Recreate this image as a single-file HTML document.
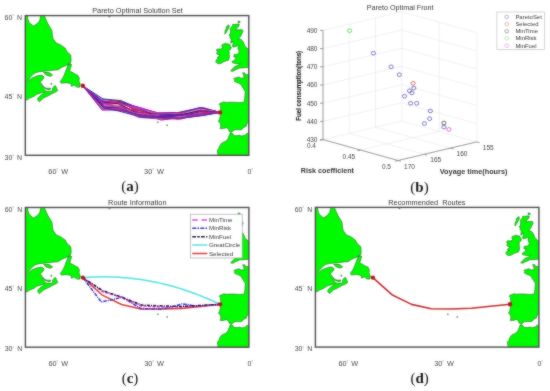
<!DOCTYPE html>
<html><head><meta charset="utf-8"><title>Figure</title><style>html,body{margin:0;padding:0;background:#fff;width:550px;height:391px;overflow:hidden}</style></head><body>
<svg width="550" height="391" viewBox="0 0 550 391" font-family="'Liberation Sans', Arial, Helvetica, sans-serif" style="display:block">
<defs><clipPath id="clip"><rect x="0" y="0" width="223.5" height="139.7"/></clipPath>
<path id="land" d="M-31.93,-19.99 0.32,-19.99 1.28,-6.45 1.92,-3.2 2.24,0.63 2.39,2.78 3.99,7.12 7.31,9.93 8.4,10.41 11.69,8.22 14.4,4.9 15.2,1.08 15.33,-3.2 19.16,-3.2 19.16,0.7 22.7,8.41 26.6,14.78 27.2,19.88 27.81,23.09 31,27.5 35.44,29.39 39.69,32.47 41.99,36.32 45.43,39.36 45.82,44.76 45.05,47.8 41.22,49.73 36.62,51.65 32.76,54.25 29.41,54.5 25.29,54.99 21.71,55.24 19.16,55.64 14.05,56.18 9.96,57.17 7.66,58.93 5.87,60.77 3.83,63.04 2.27,64.85 -1.6,67.78 -1.6,68.72 1.76,66.42 4.47,63.99 6.9,62.32 12.01,60.24 14.69,59.66 16.6,59.75 18.65,61.26 17.88,63.52 16.28,64.95 14.69,66.84 16.12,67.78 16.92,69.19 17.24,71.05 18.2,72.9 19.48,74.74 20.43,75.42 23.63,76.11 25.86,75.88 27.14,74.97 27.14,72.9 28.74,70.59 30.33,70.12 30.97,71.98 32.47,74.97 30.97,76.11 29.06,77.01 27.14,77.92 23.95,79.72 20.75,81.28 18.2,82.39 15.96,84.6 14.05,86.14 12.45,84.6 12.45,82.39 14.37,80.61 16.6,78.82 18.52,77.92 19.16,76.56 17.24,77.01 15.01,77.69 12.77,78.14 10.86,79.04 9.26,80.39 7.02,81.51 4.47,82.39 2.24,83.94 -0.32,85.04 -1.92,87.23 -31.93,92.41Z M43.26,48.46 46.3,48.82 45.34,52.25 44.28,55.49 45.82,56.28 46.65,56.48 49.71,58.49 52.75,59.8 54.06,62.84 53.61,65.42 54.92,68.49 54.47,71.52 52.36,71.75 50.99,71.1 48.82,69.38 47.89,70.12 45.79,70.68 46.23,68.49 43.74,67.55 41,67.17 35.79,67.6 34.93,65.9 37.52,62.41 38.92,59.41 41.22,53.2Z M18.2,56.97 21.39,56.72 24.17,57.21 27.14,59.17 26.18,60.39 24.27,60.63 20.75,59.41Z M17.88,70.12 19.32,71.98 21.71,72.67 23.95,72.67 25.54,72.67 24.27,74.74 22.35,73.82 19.8,73.13 18.52,71.98Z M25.7,67.31 26.5,68.02 25.86,69.19 25.54,68.25Z M78.23,-9.75 81.1,-1.91 83.01,0.32 83.97,1.58 85.57,0 87.48,-3.85 89.4,-9.75Z M203.7,28.5 201.47,28.22 200.19,27.5 198.91,28.5 197,28.78 196.36,30.44 197.32,31.82 196.04,33.46 194.45,33.46 192.21,33.46 191.25,34 191.57,35.62 192.85,36.16 190.93,37.77 192.85,39.1 194.76,39.36 193.49,40.42 191.89,42.52 193.49,42.79 191.25,44.09 190.29,45.9 191.57,47.44 192.85,48.21 196.04,47.7 198.28,46.16 201.15,45.12 203.23,44.61 204.02,42 204.34,40.42 203.7,38.57 204.02,36.7 203.39,35.08 205.62,33.46 205.94,31.54 204.98,30.44 204.66,29.34Z M207.54,8.59 209.45,9.02 212.64,8.41 213.92,8.71 213.6,10.53 211.05,13.24 210.41,14.72 212.33,14.13 217.11,14.13 217.75,15.61 216.8,17.67 215.84,19.7 215.2,21.15 214.24,22.01 213.28,23.44 215.52,23.72 217.11,25.14 218.39,27.11 219.35,30.17 221.58,32.36 223.18,34.54 223.98,37.23 224.62,39.36 225.42,40.69 228.93,41.74 229.09,45.12 227.01,46.67 226.05,48.21 228.13,49.22 226.69,51 224.14,52 220.95,51.9 217.43,52.35 214.24,52.35 212.33,53.5 210.41,54.1 207.54,55.74 205.3,55.49 206.9,53.5 209.77,50.74 213.28,49.73 214.88,48.21 212.96,48.46 210.09,47.95 207.22,47.18 206.58,46.16 210.09,43.83 210.41,40.95 208.49,41.48 208.81,38.83 212.64,38.57 213.92,36.16 212.64,32.91 213.28,29.89 209.45,31.16 207.85,31.54 207.06,30.44 207.85,28.22 207.85,25.42 206.1,27.39 205.3,27.67 205.94,24 204.5,21.72 205.3,19.99 203.7,19.7 204.98,17.96 205.3,15.31 204.98,12.94 206.9,10.53Z M203.7,9.2 203.86,11.74 202.43,14.13 200.51,17.67 199.55,18.54 199.71,15.31 200.83,13.24 200.99,11.14 202.43,9.93Z M212.96,5.33 214.88,5.95 214.24,7.49 212.64,6.87Z M233.08,49.73 228.61,51.25 228.61,54.75 227.01,55.98 223.98,57.21 224.14,58.44 222.86,59.17 219.67,58.83 219.35,57.21 217.27,57.21 218.39,59.66 218.71,62.32 215.84,62.56 213.6,61.35 210.73,62.08 208.33,63.04 209.77,64.23 208.81,65.42 210.41,66.37 213.92,67.78 215.84,68.96 216.8,71.05 218.39,73.36 219.99,76.11 219.67,79.27 219.51,82.39 218.87,86.14 217.75,86.8 214.24,87.01 211.37,86.8 207.54,86.58 204.66,86.58 201.15,86.8 198.28,86.36 197,87.01 194.76,87.67 193.81,88.75 195.08,90.26 195.18,92.41 195.72,96.65 195.08,99.58 194.45,102.89 193.49,104.94 193.23,106.17 194.76,106.98 195.4,109 195.4,111.01 194.76,113.01 197.96,113.01 199.87,112.41 201.47,112.21 203.39,114 203.7,115.58 205.62,116.96 206.58,116.17 209.45,114.2 212.33,114.12 216.48,114.12 218.39,111.81 220.95,110.61 221.58,107.99 224.14,105.96 225.1,104.94 233.08,104.94Z M233.08,113.8 226.69,114.99 223.5,117.55 221.58,117.94 219.67,119.69 216.48,120.47 214.24,119.69 212.01,120.08 209.13,120.08 206.58,117.35 204.66,117.74 203.86,120.08 202.43,123.56 201.63,124.71 199.23,126.24 196.36,127.57 193.97,130.79 193.81,132.29 192.21,134.53 192.05,137.12 192.69,138.23 192.21,140.43 189.98,143.35 233.08,143.35Z" fill="#00fa00" stroke="#1e5a1e" stroke-width="0.55" stroke-linejoin="round"/>
<filter id="soft" x="0" y="0" width="550" height="391" filterUnits="userSpaceOnUse" color-interpolation-filters="sRGB"><feGaussianBlur stdDeviation="1" result="b"/><feComposite in="SourceGraphic" in2="b" operator="arithmetic" k2="0.55" k3="0.45"/></filter>
</defs>
<g filter="url(#soft)">
<rect width="550" height="391" fill="#fff"/>
<g transform="translate(25.3,15.6)">
<g clip-path="url(#clip)">
<use href="#land"/>
<circle cx="132.5" cy="106.74" r="0.75" fill="#3a4a3a"/><circle cx="141.76" cy="109.61" r="0.75" fill="#3a4a3a"/>
<polyline points="57.5,70.2 77.75,83.4 95.68,85 112.79,92.4 132.69,97.57 152.85,96.9 175.62,92 194.6,96.8" fill="none" stroke="#383858" stroke-width="1" stroke-linejoin="round"/>
<polyline points="57.5,70.2 75.62,83.4 97.74,86.54 114.48,93.45 132.73,100.18 153.95,99.06 174.09,92 194.6,96.8" fill="none" stroke="#3434c8" stroke-width="1" stroke-linejoin="round"/>
<polyline points="57.5,70.2 75.4,85.89 96.19,86.61 115.24,92.46 132.8,97.4 155.9,96.9 175.07,92.36 194.6,96.8" fill="none" stroke="#7a18c8" stroke-width="1" stroke-linejoin="round"/>
<polyline points="57.5,70.2 76,84.7 96.49,88.58 115.37,92.4 136.88,98.48 153.94,98.97 174.09,95.72 194.6,96.8" fill="none" stroke="#c828b0" stroke-width="1" stroke-linejoin="round"/>
<polyline points="57.5,70.2 75.26,86.49 93.2,86.74 116.32,95.13 136.88,98.99 155.98,97.2 176.4,93.89 194.6,96.8" fill="none" stroke="#e070c8" stroke-width="1" stroke-linejoin="round"/>
<polyline points="57.5,70.2 79.22,87.29 96.32,87.03 116.01,92.4 137.47,99.63 153.92,99.96 176.84,93.04 194.6,96.8" fill="none" stroke="#8a18d8" stroke-width="1" stroke-linejoin="round"/>
<polyline points="57.5,70.2 75.34,86.03 93.29,85 113.15,96.51 134.45,97.92 152.9,100.47 176.25,93.69 194.6,96.8" fill="none" stroke="#c01850" stroke-width="1" stroke-linejoin="round"/>
<polyline points="57.5,70.2 78.82,88.06 95.08,86.4 116.92,94.18 133.25,101.72 153.66,97.33 175.92,92.8 194.6,96.8" fill="none" stroke="#2a2aa0" stroke-width="1" stroke-linejoin="round"/>
<polyline points="57.5,70.2 74.52,86 94.85,87.84 117.27,95.91 135.08,100.67 155.88,99.76 178,92.12 194.6,96.8" fill="none" stroke="#9010a0" stroke-width="1" stroke-linejoin="round"/>
<polyline points="57.5,70.2 78.49,89.17 94.99,88.05 115.67,93.23 132.84,97.82 153.31,98.03 173.76,94 194.6,96.8" fill="none" stroke="#d83ca8" stroke-width="1" stroke-linejoin="round"/>
<polyline points="57.5,70.2 75.01,86.36 93.13,88.24 115.57,98.66 133.76,98.52 154.32,98.98 177.74,93.1 194.6,96.8" fill="none" stroke="#401880" stroke-width="1" stroke-linejoin="round"/>
<polyline points="57.5,70.2 76.92,88.2 93.51,86.6 113.82,95.52 133.31,102.17 157.25,97.66 174.23,95.65 194.6,96.8" fill="none" stroke="#d02868" stroke-width="1" stroke-linejoin="round"/>
<polyline points="57.5,70.2 77.14,86.67 97.32,93.57 113.81,98.21 133.34,100.15 155.16,101.6 175.15,97.34 194.6,96.8" fill="none" stroke="#9a30e0" stroke-width="1" stroke-linejoin="round"/>
<polyline points="57.5,70.2 79.42,90.61 97.03,93.04 116.2,99.38 135.09,99.73 152.64,99.83 174.9,93.49 194.6,96.8" fill="none" stroke="#f0a0d8" stroke-width="1" stroke-linejoin="round"/>
<polyline points="57.5,70.2 79.28,90.51 97.69,90.47 117.28,100.85 133.6,100.69 153.48,99.47 176.62,94.77 194.6,96.8" fill="none" stroke="#700060" stroke-width="1" stroke-linejoin="round"/>
<polyline points="57.5,70.2 76.9,91.6 97,92.38 115.8,95.27 136.41,103.67 154.89,102.3 177.45,94.93 194.6,96.8" fill="none" stroke="#c82060" stroke-width="1" stroke-linejoin="round"/>
<polyline points="57.5,70.2 79.36,91.86 95.01,90.9 116.12,101.31 133.14,100.27 157.02,99.63 174.23,98.71 194.6,96.8" fill="none" stroke="#5020c0" stroke-width="1" stroke-linejoin="round"/>
<polyline points="57.5,70.2 77.79,93.09 95.74,90.97 112.57,96.3 135.75,104.5 157.17,101.74 177.86,96.95 194.6,96.8" fill="none" stroke="#b02090" stroke-width="1" stroke-linejoin="round"/>
<polyline points="57.5,70.2 75.76,90.07 94.2,90.95 113.8,99.66 133.16,102.05 154.27,103.89 176.42,97.39 194.6,96.8" fill="none" stroke="#e04890" stroke-width="1" stroke-linejoin="round"/>
<polyline points="57.5,70.2 79.09,91.44 95.66,92.89 112.59,99.6 133.42,102.43 156.5,99.72 175.87,96.11 194.6,96.8" fill="none" stroke="#4028a8" stroke-width="1" stroke-linejoin="round"/>
<polyline points="57.5,70.2 76.13,92.48 95.78,93.41 113.03,101.68 133.74,103.3 156.36,101.33 176.31,98.27 194.6,96.8" fill="none" stroke="#c030a0" stroke-width="1" stroke-linejoin="round"/>
<polyline points="57.5,70.2 76.72,94.51 95.53,94.51 115.96,100.25 135.17,103.03 157.21,102.58 177.88,99.63 194.6,96.8" fill="none" stroke="#8030e0" stroke-width="1" stroke-linejoin="round"/>
<polyline points="57.5,70.2 77.3,92.02 97.2,95.5 113.11,98.15 132.86,103.26 152.87,101.69 177.42,99.77 194.6,96.8" fill="none" stroke="#d86cb8" stroke-width="1" stroke-linejoin="round"/>
<polyline points="57.5,70.2 78.08,91.97 93.71,95.5 117.34,101.8 137.26,102.42 154.94,102.73 177.66,99.9 194.6,96.8" fill="none" stroke="#3c2c90" stroke-width="1" stroke-linejoin="round"/>
<polyline points="57.5,70.2 77.08,93.65 93.98,93.71 116.11,100.06 135.27,101.7 152.59,103.2 176.62,98.51 194.6,96.8" fill="none" stroke="#b02870" stroke-width="1" stroke-linejoin="round"/>
<polyline points="57.5,70.2 79.43,92.43 97.86,95.5 113.83,99.02 136.39,102.08 153.15,102.64 178.06,99.32 194.6,96.8" fill="none" stroke="#6a1ab8" stroke-width="1" stroke-linejoin="round"/>
<circle cx="57.5" cy="70.2" r="2.2" fill="#b81414"/>
<circle cx="194.6" cy="96.8" r="2.2" fill="#b81414"/>
</g>
<rect x="0" y="0" width="223.5" height="139.7" fill="none" stroke="#4a4a4a" stroke-width="1.4"/>
</g>
<text x="22.1" y="19.8" font-size="7" text-anchor="end" fill="#444">60<tspan font-size="4.2" dy="-2.6">&#176;</tspan><tspan dy="2.6" dx="1"> N</tspan></text>
<text x="22.1" y="99.07" font-size="7" text-anchor="end" fill="#444">45<tspan font-size="4.2" dy="-2.6">&#176;</tspan><tspan dy="2.6" dx="1"> N</tspan></text>
<text x="22.1" y="159.5" font-size="7" text-anchor="end" fill="#444">30<tspan font-size="4.2" dy="-2.6">&#176;</tspan><tspan dy="2.6" dx="1"> N</tspan></text>
<text x="58.23" y="174" font-size="7.3" text-anchor="middle" fill="#444">60<tspan font-size="4.38" dy="-2.6">&#176;</tspan><tspan dy="2.6" dx="1"> W</tspan></text>
<text x="154.01" y="174" font-size="7.3" text-anchor="middle" fill="#444">30<tspan font-size="4.38" dy="-2.6">&#176;</tspan><tspan dy="2.6" dx="1"> W</tspan></text>
<text x="250.3" y="174" font-size="7" text-anchor="middle" fill="#444">0<tspan font-size="4.2" dy="-2.6">&#176;</tspan></text>
<text x="137.5" y="12.8" font-size="7.35" text-anchor="middle" fill="#333">Pareto Optimal Solution Set</text>
<g transform="translate(25.4,207.5)">
<g clip-path="url(#clip)">
<use href="#land"/>
<circle cx="132.5" cy="106.74" r="0.75" fill="#3a4a3a"/><circle cx="141.76" cy="109.61" r="0.75" fill="#3a4a3a"/>
<polyline points="57.5,70.2 59.92,70.01 62.34,69.84 64.76,69.7 67.19,69.58 69.62,69.48 72.05,69.41 74.48,69.36 76.91,69.34 79.35,69.33 81.78,69.36 84.21,69.4 86.64,69.47 89.07,69.56 91.5,69.68 93.92,69.82 96.34,69.98 98.76,70.16 101.18,70.37 103.59,70.6 105.99,70.86 108.39,71.13 110.79,71.43 113.18,71.75 115.56,72.1 117.93,72.46 120.3,72.85 122.66,73.26 125.02,73.69 127.36,74.14 129.7,74.61 132.03,75.1 134.35,75.61 136.65,76.14 138.95,76.69 141.24,77.26 143.52,77.85 145.79,78.46 148.05,79.09 150.29,79.73 152.53,80.39 154.75,81.07 156.96,81.77 159.16,82.48 161.35,83.21 163.53,83.95 165.69,84.71 167.84,85.49 169.98,86.28 172.1,87.08 174.21,87.9 176.31,88.73 178.4,89.58 180.47,90.44 182.53,91.31 184.57,92.2 186.61,93.1 188.62,94 190.63,94.93 192.62,95.86 194.6,96.8" fill="none" stroke="#50e0e0" stroke-width="1.5"/>
<polyline points="57.5,70.2 76.5,87.3 96.1,97 115.8,101.4 135,101.6 155.9,100.9 175,98.9 194.6,96.8" fill="none" stroke="#d83a34" stroke-width="1.5" stroke-linejoin="round"/>
<polyline points="57.5,70.2 75.9,94.5 86.5,92.2 97,89.6 115,101 135,101.8 150.1,98.6 156.4,96.4 162,97 170.1,98.9 194.6,96.8" fill="none" stroke="#3434c0" stroke-width="1.5" stroke-dasharray="3.5,1,1,1" stroke-linejoin="round"/>
<polyline points="57.5,70.2 77,84 94.5,89.5 116,98.5 135,99.5 155,99.6 175,98.4 194.6,96.8" fill="none" stroke="#e040e0" stroke-width="1.5" stroke-dasharray="3,1.5" stroke-linejoin="round"/>
<polyline points="57.5,70.2 77.3,83.2 93.7,88.7 116.6,97.6 135,98.3 155,99 175,98 194.6,96.8" fill="none" stroke="#1a1030" stroke-width="1.5" stroke-dasharray="3,1.2,1,1.2" stroke-linejoin="round"/>
<circle cx="57.5" cy="70.2" r="2.1" fill="#b81414"/>
<circle cx="194.6" cy="96.8" r="2.1" fill="#b81414"/>
<rect x="165" y="6.7" width="51.8" height="43.8" fill="#fff" stroke="#999" stroke-width="0.6"/>
<line x1="166.9" y1="12.4" x2="181.9" y2="12.4" stroke="#e040e0" stroke-width="1.5" stroke-dasharray="5.4,3.9"/>
<text x="183.6" y="14.6" font-size="6.2" fill="#333">MinTime</text>
<line x1="166.9" y1="20.78" x2="181.9" y2="20.78" stroke="#3434c0" stroke-width="1.5" stroke-dasharray="4,1.2,1.6,1.2"/>
<text x="183.6" y="22.98" font-size="6.2" fill="#333">MinRisk</text>
<line x1="166.9" y1="29.16" x2="181.9" y2="29.16" stroke="#1a1030" stroke-width="1.5" stroke-dasharray="3.6,1.4,2.4,1.4"/>
<text x="183.6" y="31.36" font-size="6.2" fill="#333">MinFuel</text>
<line x1="166.9" y1="37.54" x2="181.9" y2="37.54" stroke="#50e0e0" stroke-width="1.5"/>
<text x="183.6" y="39.74" font-size="6.2" fill="#333">GreatCircle</text>
<line x1="166.9" y1="45.92" x2="181.9" y2="45.92" stroke="#d83a34" stroke-width="1.5"/>
<text x="183.6" y="48.12" font-size="6.2" fill="#333">Selected</text>
</g>
<rect x="0" y="0" width="223.5" height="139.7" fill="none" stroke="#4a4a4a" stroke-width="1.4"/>
</g>
<text x="22.2" y="211.7" font-size="7" text-anchor="end" fill="#444">60<tspan font-size="4.2" dy="-2.6">&#176;</tspan><tspan dy="2.6" dx="1"> N</tspan></text>
<text x="22.2" y="290.97" font-size="7" text-anchor="end" fill="#444">45<tspan font-size="4.2" dy="-2.6">&#176;</tspan><tspan dy="2.6" dx="1"> N</tspan></text>
<text x="22.2" y="351.4" font-size="7" text-anchor="end" fill="#444">30<tspan font-size="4.2" dy="-2.6">&#176;</tspan><tspan dy="2.6" dx="1"> N</tspan></text>
<text x="58.33" y="365.9" font-size="7.3" text-anchor="middle" fill="#444">60<tspan font-size="4.38" dy="-2.6">&#176;</tspan><tspan dy="2.6" dx="1"> W</tspan></text>
<text x="154.11" y="365.9" font-size="7.3" text-anchor="middle" fill="#444">30<tspan font-size="4.38" dy="-2.6">&#176;</tspan><tspan dy="2.6" dx="1"> W</tspan></text>
<text x="250.4" y="365.9" font-size="7" text-anchor="middle" fill="#444">0<tspan font-size="4.2" dy="-2.6">&#176;</tspan></text>
<text x="137.3" y="204.6" font-size="7.35" text-anchor="middle" fill="#333">Route Information</text>
<g transform="translate(315.4,207.4)">
<g clip-path="url(#clip)">
<use href="#land"/>
<circle cx="132.5" cy="106.74" r="0.75" fill="#3a4a3a"/><circle cx="141.76" cy="109.61" r="0.75" fill="#3a4a3a"/>
<polyline points="57.5,70.2 76.5,87.3 96.1,97 115.8,101.4 135,101.6 155.9,100.9 175,98.9 194.6,96.8" fill="none" stroke="#c02c2c" stroke-width="1.6" stroke-linejoin="round"/>
<circle cx="57.5" cy="70.2" r="2.2" fill="#b81414"/>
<circle cx="194.6" cy="96.8" r="2.2" fill="#b81414"/>
</g>
<rect x="0" y="0" width="223.5" height="139.7" fill="none" stroke="#4a4a4a" stroke-width="1.4"/>
</g>
<text x="312.2" y="211.6" font-size="7" text-anchor="end" fill="#444">60<tspan font-size="4.2" dy="-2.6">&#176;</tspan><tspan dy="2.6" dx="1"> N</tspan></text>
<text x="312.2" y="290.87" font-size="7" text-anchor="end" fill="#444">45<tspan font-size="4.2" dy="-2.6">&#176;</tspan><tspan dy="2.6" dx="1"> N</tspan></text>
<text x="312.2" y="351.3" font-size="7" text-anchor="end" fill="#444">30<tspan font-size="4.2" dy="-2.6">&#176;</tspan><tspan dy="2.6" dx="1"> N</tspan></text>
<text x="348.33" y="365.8" font-size="7.3" text-anchor="middle" fill="#444">60<tspan font-size="4.38" dy="-2.6">&#176;</tspan><tspan dy="2.6" dx="1"> W</tspan></text>
<text x="444.11" y="365.8" font-size="7.3" text-anchor="middle" fill="#444">30<tspan font-size="4.38" dy="-2.6">&#176;</tspan><tspan dy="2.6" dx="1"> W</tspan></text>
<text x="540.4" y="365.8" font-size="7" text-anchor="middle" fill="#444">0<tspan font-size="4.2" dy="-2.6">&#176;</tspan></text>
<text x="426.9" y="205" font-size="7.35" text-anchor="middle" fill="#333" xml:space="preserve">Recommended  Routes</text>
<g stroke="#e6e6e6" stroke-width="0.6" fill="none">
<line x1="349.27" y1="133.4" x2="349.27" y2="24.2"/>
<line x1="375.53" y1="127.2" x2="375.53" y2="18"/>
<line x1="401.8" y1="121" x2="401.8" y2="11.8"/>
<line x1="323" y1="139.6" x2="401.8" y2="121"/>
<line x1="323" y1="121.4" x2="401.8" y2="102.8"/>
<line x1="323" y1="103.2" x2="401.8" y2="84.6"/>
<line x1="323" y1="85" x2="401.8" y2="66.4"/>
<line x1="323" y1="66.8" x2="401.8" y2="48.2"/>
<line x1="323" y1="48.6" x2="401.8" y2="30"/>
<line x1="323" y1="30.4" x2="401.8" y2="11.8"/>
<line x1="439.3" y1="131.45" x2="439.3" y2="22.25"/>
<line x1="476.8" y1="141.9" x2="476.8" y2="32.7"/>
<line x1="401.8" y1="121" x2="476.8" y2="141.9"/>
<line x1="401.8" y1="102.8" x2="476.8" y2="123.7"/>
<line x1="401.8" y1="84.6" x2="476.8" y2="105.5"/>
<line x1="401.8" y1="66.4" x2="476.8" y2="87.3"/>
<line x1="401.8" y1="48.2" x2="476.8" y2="69.1"/>
<line x1="401.8" y1="30" x2="476.8" y2="50.9"/>
<line x1="401.8" y1="11.8" x2="476.8" y2="32.7"/>
<line x1="360.5" y1="150.05" x2="439.3" y2="131.45"/>
<line x1="349.27" y1="133.4" x2="424.27" y2="154.3"/>
<line x1="375.53" y1="127.2" x2="450.53" y2="148.1"/>
</g>
<g stroke="#8a8a8a" stroke-width="0.9" fill="none">
<line x1="323" y1="139.6" x2="323" y2="30.4"/>
<line x1="323" y1="139.6" x2="398" y2="160.5"/>
<line x1="398" y1="160.5" x2="476.8" y2="141.9"/>
<line x1="320" y1="139.6" x2="323" y2="139.6"/>
<line x1="320" y1="121.4" x2="323" y2="121.4"/>
<line x1="320" y1="103.2" x2="323" y2="103.2"/>
<line x1="320" y1="85" x2="323" y2="85"/>
<line x1="320" y1="66.8" x2="323" y2="66.8"/>
<line x1="320" y1="48.6" x2="323" y2="48.6"/>
<line x1="320" y1="30.4" x2="323" y2="30.4"/>
<line x1="323" y1="139.6" x2="320" y2="140.3"/>
<line x1="360.5" y1="150.05" x2="357.5" y2="150.75"/>
<line x1="398" y1="160.5" x2="395" y2="161.2"/>
<line x1="398" y1="160.5" x2="400.8" y2="161.3"/>
<line x1="424.27" y1="154.3" x2="427.07" y2="155.1"/>
<line x1="450.53" y1="148.1" x2="453.33" y2="148.9"/>
<line x1="476.8" y1="141.9" x2="479.6" y2="142.7"/>
</g>
<text x="317.5" y="141.9" font-size="6.5" text-anchor="end" fill="#404040">430</text>
<text x="317.5" y="123.7" font-size="6.5" text-anchor="end" fill="#404040">440</text>
<text x="317.5" y="105.5" font-size="6.5" text-anchor="end" fill="#404040">450</text>
<text x="317.5" y="87.3" font-size="6.5" text-anchor="end" fill="#404040">460</text>
<text x="317.5" y="69.1" font-size="6.5" text-anchor="end" fill="#404040">470</text>
<text x="317.5" y="50.9" font-size="6.5" text-anchor="end" fill="#404040">480</text>
<text x="317.5" y="32.7" font-size="6.5" text-anchor="end" fill="#404040">490</text>
<text x="311.4" y="148.1" font-size="6.5" text-anchor="middle" fill="#404040">0.4</text>
<text x="348.9" y="158.55" font-size="6.5" text-anchor="middle" fill="#404040">0.45</text>
<text x="386.4" y="169" font-size="6.5" text-anchor="middle" fill="#404040">0.5</text>
<text x="409.5" y="168.5" font-size="6.5" text-anchor="middle" fill="#404040">170</text>
<text x="435.77" y="162.3" font-size="6.5" text-anchor="middle" fill="#404040">165</text>
<text x="462.03" y="156.1" font-size="6.5" text-anchor="middle" fill="#404040">160</text>
<text x="488.3" y="149.9" font-size="6.5" text-anchor="middle" fill="#404040">155</text>
<text x="327.4" y="172.6" font-size="7.2" font-weight="bold" text-anchor="middle" fill="#333">Risk coefficient</text>
<text x="473.6" y="173.6" font-size="7.3" font-weight="bold" text-anchor="middle" fill="#333">Voyage time(hours)</text>
<text transform="translate(301.2,85.8) rotate(-90)" font-size="6.9" font-weight="bold" text-anchor="middle" fill="#222" stroke="#222" stroke-width="0.15" textLength="69.8" lengthAdjust="spacingAndGlyphs">Fuel consumption(tons)</text>
<text x="400.2" y="10" font-size="7.2" text-anchor="middle" fill="#333">Pareto Optimal Front</text>
<ellipse cx="349.6" cy="30.7" rx="2.1" ry="1.85" fill="none" stroke="#40d040" stroke-width="0.75"/>
<ellipse cx="373.4" cy="53.2" rx="2.1" ry="1.85" fill="none" stroke="#5050b0" stroke-width="0.75"/>
<ellipse cx="391.1" cy="66.8" rx="2.1" ry="1.85" fill="none" stroke="#5050b0" stroke-width="0.75"/>
<ellipse cx="399.3" cy="74.7" rx="2.1" ry="1.85" fill="none" stroke="#5050b0" stroke-width="0.75"/>
<ellipse cx="413.1" cy="83.4" rx="2.1" ry="1.85" fill="none" stroke="#d04040" stroke-width="0.75"/>
<ellipse cx="413.8" cy="88.1" rx="2.1" ry="1.85" fill="none" stroke="#5050b0" stroke-width="0.75"/>
<ellipse cx="409.5" cy="90.8" rx="2.1" ry="1.85" fill="none" stroke="#5050b0" stroke-width="0.75"/>
<ellipse cx="411.9" cy="92.9" rx="2.1" ry="1.85" fill="none" stroke="#5050b0" stroke-width="0.75"/>
<ellipse cx="404.5" cy="96.2" rx="2.1" ry="1.85" fill="none" stroke="#5050b0" stroke-width="0.75"/>
<ellipse cx="410.6" cy="103.3" rx="2.1" ry="1.85" fill="none" stroke="#5050b0" stroke-width="0.75"/>
<ellipse cx="416.7" cy="103.3" rx="2.1" ry="1.85" fill="none" stroke="#5050b0" stroke-width="0.75"/>
<ellipse cx="430.3" cy="111" rx="2.1" ry="1.85" fill="none" stroke="#5050b0" stroke-width="0.75"/>
<ellipse cx="429.6" cy="118.7" rx="2.1" ry="1.85" fill="none" stroke="#5050b0" stroke-width="0.75"/>
<ellipse cx="424.4" cy="123.5" rx="2.1" ry="1.85" fill="none" stroke="#5050b0" stroke-width="0.75"/>
<ellipse cx="443.9" cy="123" rx="2.1" ry="1.85" fill="none" stroke="#404040" stroke-width="0.75"/>
<ellipse cx="443.9" cy="127.1" rx="2.1" ry="1.85" fill="none" stroke="#5050b0" stroke-width="0.75"/>
<ellipse cx="448.9" cy="129.4" rx="2.1" ry="1.85" fill="none" stroke="#d040d0" stroke-width="0.75"/>
<rect x="496.9" y="12" width="47.5" height="37.7" fill="#fff" stroke="#aaa" stroke-width="0.5"/>
<ellipse cx="506.7" cy="17" rx="1.9" ry="1.7" fill="none" stroke="#8080d0" stroke-width="0.6"/>
<text x="515.4" y="19.1" font-size="5.95" fill="#333">ParetoSet</text>
<ellipse cx="506.7" cy="24.13" rx="1.9" ry="1.7" fill="none" stroke="#e08080" stroke-width="0.6"/>
<text x="515.4" y="26.23" font-size="5.95" fill="#333">Selected</text>
<ellipse cx="506.7" cy="31.26" rx="1.9" ry="1.7" fill="none" stroke="#707070" stroke-width="0.6"/>
<text x="515.4" y="33.36" font-size="5.95" fill="#333">MinTime</text>
<ellipse cx="506.7" cy="38.39" rx="1.9" ry="1.7" fill="none" stroke="#80e080" stroke-width="0.6"/>
<text x="515.4" y="40.49" font-size="5.95" fill="#333">MinRisk</text>
<ellipse cx="506.7" cy="45.52" rx="1.9" ry="1.7" fill="none" stroke="#e080e0" stroke-width="0.6"/>
<text x="515.4" y="47.62" font-size="5.95" fill="#333">MinFuel</text>
<text x="129.9" y="191.2" font-size="15" text-anchor="middle" font-family="'Liberation Serif', 'Times New Roman', serif" fill="#111">(<tspan font-weight="bold">a</tspan>)</text>
<text x="419.5" y="192.3" font-size="15" text-anchor="middle" font-family="'Liberation Serif', 'Times New Roman', serif" fill="#111">(<tspan font-weight="bold">b</tspan>)</text>
<text x="130" y="382.6" font-size="15" text-anchor="middle" font-family="'Liberation Serif', 'Times New Roman', serif" fill="#111">(<tspan font-weight="bold">c</tspan>)</text>
<text x="419.7" y="383" font-size="15" text-anchor="middle" font-family="'Liberation Serif', 'Times New Roman', serif" fill="#111">(<tspan font-weight="bold">d</tspan>)</text>
</g>
</svg>
</body></html>
